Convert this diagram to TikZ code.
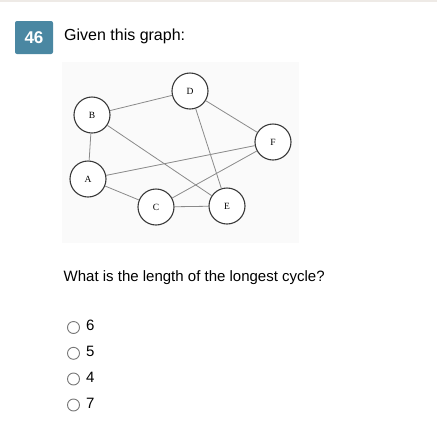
\documentclass[tikz,border=0pt]{standalone}
\usepackage{fontspec}
\setmainfont{Liberation Sans}
\newfontfamily\graphfont{Liberation Serif}
\definecolor{badgeblue}{HTML}{4A87A2}
\definecolor{topline}{HTML}{EEEAE6}
\definecolor{edgegray}{HTML}{8A8A8A}
\definecolor{ringgray}{HTML}{3A3A3A}
\definecolor{radiogray}{HTML}{777777}
\definecolor{paper}{HTML}{FAFAFA}

\begin{document}
\begin{tikzpicture}[x=1pt,y=1pt,
  vertex/.style={circle,draw=ringgray,line width=1.1pt,fill=white,minimum size=36pt,inner sep=0pt,font=\graphfont\fontsize{9.5}{10}\selectfont},
  link/.style={edgegray,line width=0.8pt},
  radio/.style={circle,draw=radiogray,line width=0.9pt,minimum size=12pt,inner sep=0pt},
  answer/.style={anchor=base west,inner sep=0pt,font=\fontsize{15}{18}\selectfont}]
  \useasboundingbox (0,0) rectangle (437,-424);
  \fill[topline] (0,0) rectangle (437,-1.5);

  % header
  \node[fill=badgeblue,rounded corners=2pt,minimum width=38pt,minimum height=33pt,
        inner sep=0pt,text=white,font=\bfseries\fontsize{17}{18}\selectfont] (badge) at (34,-37.5) {46};
  \node[anchor=base west,inner sep=0pt,font=\fontsize{16}{18}\selectfont] (title) at (64,-40) {Given this graph:};

  % graph
  \fill[paper] (62,-62) rectangle (299,-243);
  \node[vertex] (D) at (190,-91) {D};
  \node[vertex] (B) at (92,-115) {B};
  \node[vertex] (F) at (273,-142) {F};
  \node[vertex] (A) at (88,-179) {A};
  \node[vertex] (C) at (156,-207) {C};
  \node[vertex] (E) at (227,-206) {E};

  \draw[link] (B) -- (D);
  \draw[link] (B) -- (A);
  \draw[link] (B) -- (E);
  \draw[link] (D) -- (F);
  \draw[link] (D) -- (E);
  \draw[link] (A) -- (F);
  \draw[link] (A) -- (C);
  \draw[link] (C) -- (E);
  \draw[link] (C) -- (F);

  % question
  \node[anchor=base west,inner sep=0pt,font=\fontsize{15}{18}\selectfont] (question) at (63.5,-281.5) {What is the length of the longest cycle?};

  \node[radio] (r1) at (73.5,-327.5) {};
  \node[answer] (o1) at (86,-330.7) {6};
  \node[radio] (r2) at (73.5,-353.3) {};
  \node[answer] (o2) at (86,-356.6) {5};
  \node[radio] (r3) at (73.5,-379) {};
  \node[answer] (o3) at (86,-382.3) {4};
  \node[radio] (r4) at (73.5,-405) {};
  \node[answer] (o4) at (86,-408.3) {7};
\end{tikzpicture}
\end{document}
